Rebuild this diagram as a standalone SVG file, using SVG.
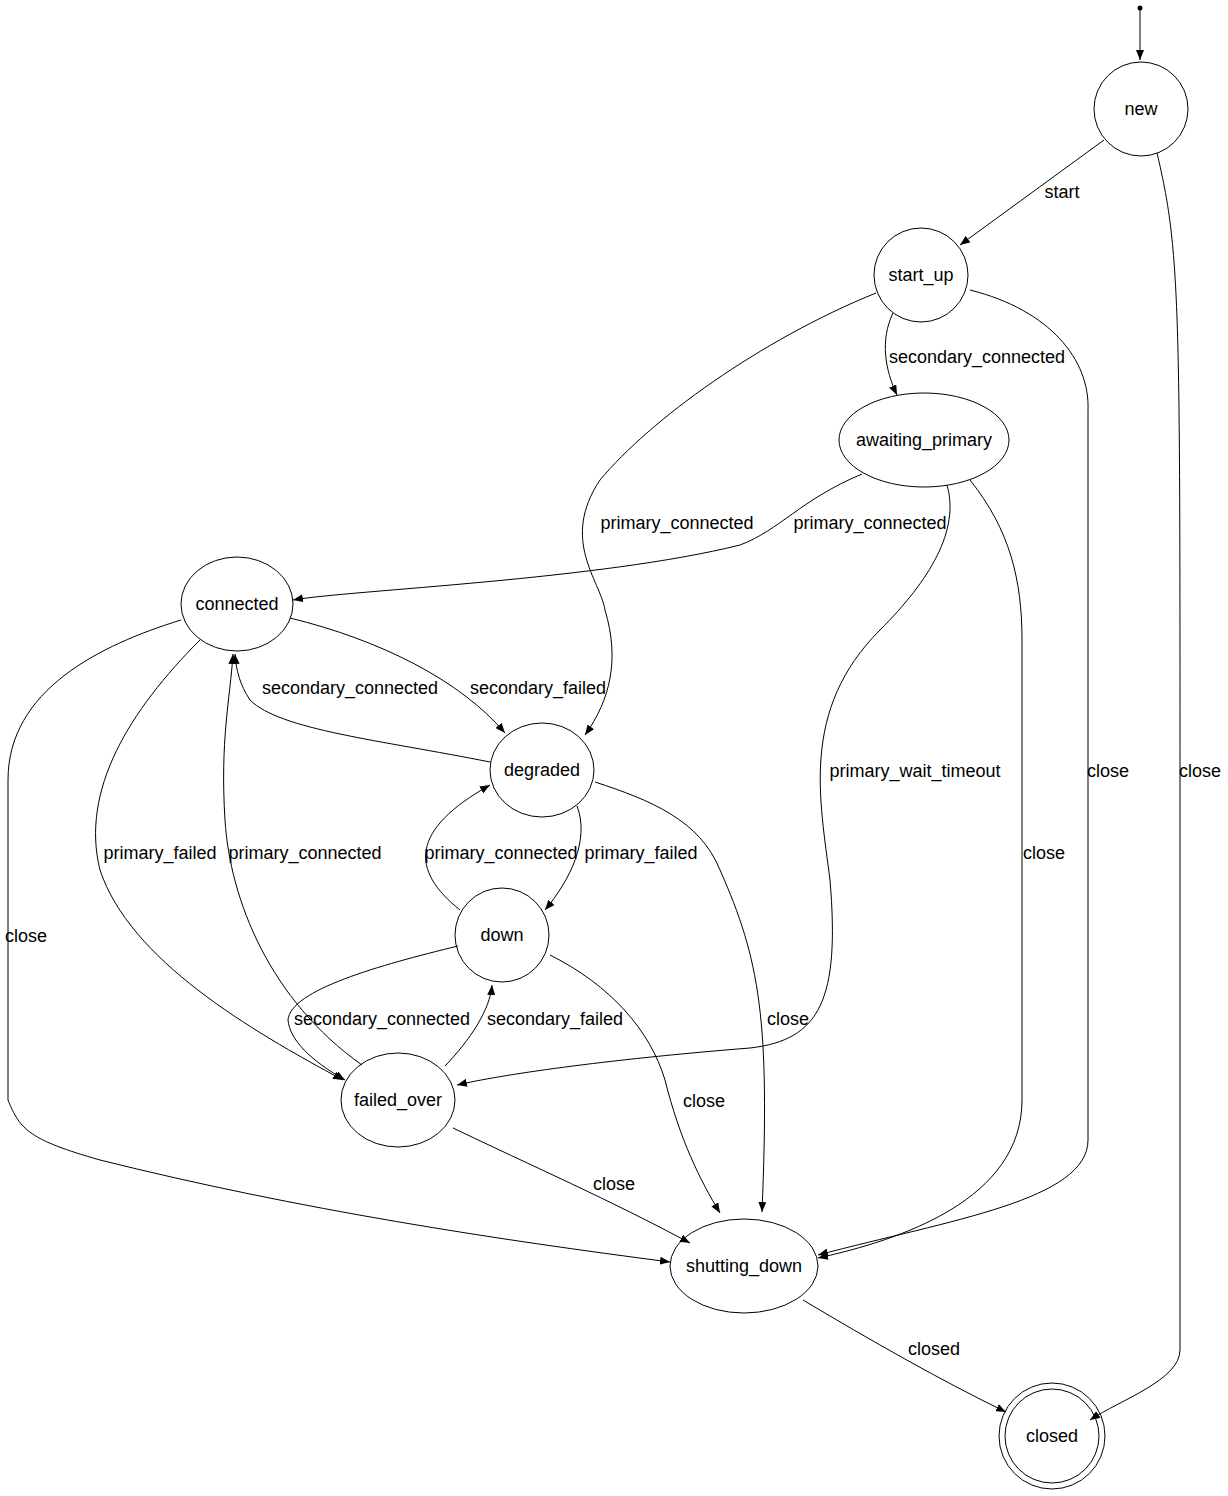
<svg xmlns="http://www.w3.org/2000/svg" width="1228" height="1496" viewBox="0 0 1228 1496">
<style>
.n{fill:none;stroke:#000;stroke-width:1}
.e{fill:none;stroke:#000;stroke-width:1;marker-end:url(#a)}
text{font-family:"Liberation Sans",Arial,sans-serif;font-size:18px;fill:#000}
.c{text-anchor:middle}
</style>
<defs><marker id="a" markerWidth="10" markerHeight="8" refX="10" refY="4" orient="auto" markerUnits="userSpaceOnUse"><path d="M0,0 L10,4 L0,8 Z" fill="#000"/></marker></defs>
<rect width="1228" height="1496" fill="#fff"/>
<g id="edges">
<path class="e" d="M1140,10 L1140,60"/>
<path class="e" d="M1104,140 L960,245"/>
<path class="e" d="M1157,153 C1180,250 1180,300 1180,770 L1180,1350 C1180,1380 1120,1400 1090,1420"/>
<path class="e" d="M893,313 C880,340 885,370 897,395"/>
<path class="e" d="M876,293 C760,340 650,420 600,480 C560,540 600,580 605,610 C620,660 610,700 585,735"/>
<path class="e" d="M970,290 C1050,310 1090,360 1088,410 L1088,1140 C1088,1200 950,1220 818,1255"/>
<path class="e" d="M862,474 C800,500 780,530 740,545 C600,580 350,590 293,600"/>
<path class="e" d="M947,485 C960,530 930,580 880,630 C800,710 820,800 830,880 C840,1000 820,1040 750,1048 C600,1060 500,1075 457,1085"/>
<path class="e" d="M970,480 C1010,530 1022,580 1022,640 L1022,1100 C1022,1200 900,1240 818,1258"/>
<path class="e" d="M290,618 C380,640 460,680 505,733"/>
<path class="e" d="M490,762 C380,740 280,730 250,700 C240,685 236,670 235,654"/>
<path class="e" d="M200,640 C130,710 80,790 100,870 C130,960 250,1030 343,1080"/>
<path class="e" d="M362,1065 C270,1000 230,900 225,820 C220,740 230,700 233,654"/>
<path class="e" d="M181,620 C100,645 8,690 8,780 L8,1100 C20,1130 30,1140 100,1160 C300,1210 500,1240 670,1262"/>
<path class="e" d="M577,806 C590,840 570,880 545,910"/>
<path class="e" d="M460,910 C410,870 410,830 490,785"/>
<path class="e" d="M595,782 C650,800 700,820 720,870 C760,960 770,1020 762,1212"/>
<path class="e" d="M458,946 C380,965 290,990 288,1020 C290,1040 310,1060 345,1080"/>
<path class="e" d="M445,1066 C470,1040 490,1010 492,985"/>
<path class="e" d="M550,955 C610,985 650,1030 665,1080 C680,1140 700,1180 720,1213"/>
<path class="e" d="M453,1128 C530,1165 610,1200 690,1243"/>
<path class="e" d="M803,1300 C870,1340 940,1380 1006,1412"/>
<text x="1062" y="198" class="c">start</text>
<text x="1200" y="777" class="c">close</text>
<text x="977" y="363" class="c">secondary_connected</text>
<text x="677" y="529" class="c">primary_connected</text>
<text x="1108" y="777" class="c">close</text>
<text x="870" y="529" class="c">primary_connected</text>
<text x="915" y="777" class="c">primary_wait_timeout</text>
<text x="1044" y="859" class="c">close</text>
<text x="538" y="694" class="c">secondary_failed</text>
<text x="350" y="694" class="c">secondary_connected</text>
<text x="160" y="859" class="c">primary_failed</text>
<text x="305" y="859" class="c">primary_connected</text>
<text x="26" y="942" class="c">close</text>
<text x="641" y="859" class="c">primary_failed</text>
<text x="501" y="859" class="c">primary_connected</text>
<text x="788" y="1025" class="c">close</text>
<text x="382" y="1025" class="c">secondary_connected</text>
<text x="555" y="1025" class="c">secondary_failed</text>
<text x="704" y="1107" class="c">close</text>
<text x="614" y="1190" class="c">close</text>
<text x="934" y="1355" class="c">closed</text>
</g>
<g id="init"><circle cx="1140" cy="8" r="2.5" fill="#000"/></g>
<g id="new"><circle class="n" cx="1141" cy="109" r="47"/><text x="1141" y="115" class="c">new</text></g>
<g id="start_up"><circle class="n" cx="921" cy="275" r="47"/><text x="921" y="281" class="c">start_up</text></g>
<g id="awaiting_primary"><ellipse class="n" cx="924" cy="440" rx="85" ry="47"/><text x="924" y="446" class="c">awaiting_primary</text></g>
<g id="connected"><ellipse class="n" cx="237" cy="604" rx="56" ry="47"/><text x="237" y="610" class="c">connected</text></g>
<g id="degraded"><ellipse class="n" cx="542" cy="770" rx="52" ry="47"/><text x="542" y="776" class="c">degraded</text></g>
<g id="down"><circle class="n" cx="502" cy="935" r="47"/><text x="502" y="941" class="c">down</text></g>
<g id="failed_over"><ellipse class="n" cx="398" cy="1100" rx="57" ry="47"/><text x="398" y="1106" class="c">failed_over</text></g>
<g id="shutting_down"><ellipse class="n" cx="744" cy="1266" rx="74" ry="47"/><text x="744" y="1272" class="c">shutting_down</text></g>
<g id="closed"><circle class="n" cx="1052" cy="1436" r="47"/><circle class="n" cx="1052" cy="1436" r="53"/><text x="1052" y="1442" class="c">closed</text></g>
</svg>
